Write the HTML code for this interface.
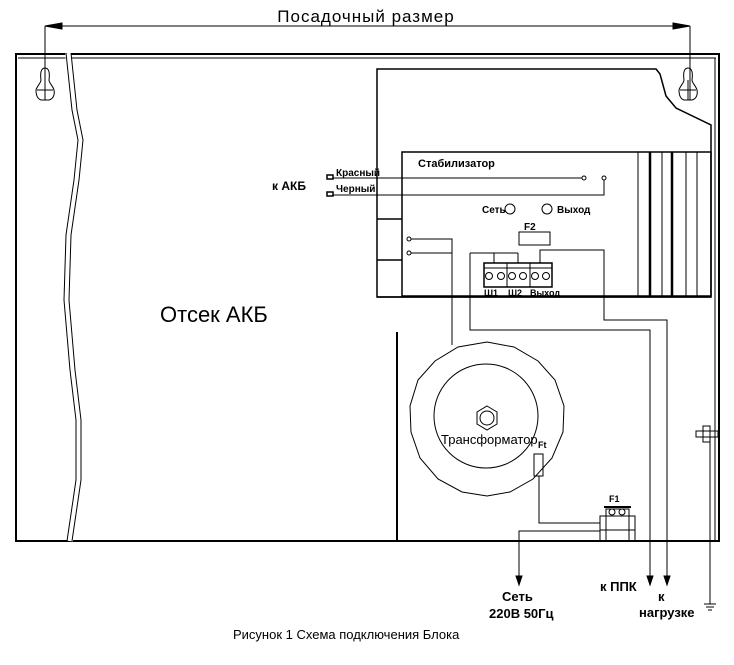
<!DOCTYPE html>
<html><head><meta charset="utf-8"><style>
html,body{margin:0;padding:0;background:#fff;width:734px;height:665px;overflow:hidden}
svg{display:block}
text{font-family:"Liberation Sans","DejaVu Sans",sans-serif;fill:#000}
.b{font-weight:bold}
</style></head><body>
<svg width="734" height="665" viewBox="0 0 734 665" xmlns="http://www.w3.org/2000/svg">
<g fill="none" stroke="#000" stroke-width="1">
<line x1="45" y1="26" x2="690" y2="26"/>
<line x1="45" y1="26" x2="45" y2="100"/>
<line x1="690" y1="26" x2="690" y2="100"/>
<polygon points="45,26 62,23 62,29" fill="#000"/>
<polygon points="690,26 673,23 673,29" fill="#000"/>
<rect x="16" y="54" width="703" height="487" stroke-width="2"/>
<line x1="18" y1="58" x2="716" y2="58"/>
<line x1="715" y1="58" x2="715" y2="540"/>
<path d="M68,53 L74,110 L80,140 L76,180 L68,235 L66,300 L72,370 L78,420 L78,480 L70,541" stroke="#fff" stroke-width="6"/>
<path d="M66,53 L72,110 L78,140 L74,180 L66,235 L64,300 L70,370 L76,420 L76,480 L67,541"/>
<path d="M71,53 L77,110 L83,140 L79,180 L71,235 L69,300 L75,370 L81,420 L81,480 L72,541"/>
<path d="M45,68 C41,68 40,73 41,80 C41,83 37,86 36,90 C36,96 38,99 41,100 L49,100 C53,99 55,95 54,90 C53,86 49,83 49,80 C50,73 49,68 45,68Z"/>
<line x1="37" y1="90" x2="53" y2="90"/><line x1="45" y1="80" x2="45" y2="100"/>
<path d="M688,68 C684,68 683,73 684,80 C684,83 680,86 679,90 C679,96 681,99 684,100 L692,100 C696,99 698,95 697,90 C696,86 692,83 692,80 C693,73 692,68 688,68Z"/>
<line x1="680" y1="90" x2="696" y2="90"/><line x1="688" y1="80" x2="688" y2="100"/>
<path d="M377,297 L377,69 L656,69 L660,74 L666,96 L676,108 L711,125 L711,297 Z" stroke-width="1.5"/>
<line x1="377" y1="297" x2="711" y2="297" stroke-width="1.5"/>
<rect x="402" y="152" width="309" height="144" stroke-width="1.5"/>
<line x1="638" y1="152" x2="638" y2="296"/>
<line x1="650" y1="152" x2="650" y2="296" stroke-width="2.5"/>
<line x1="662" y1="152" x2="662" y2="296"/>
<line x1="672" y1="152" x2="672" y2="296" stroke-width="2.5"/>
<line x1="686" y1="152" x2="686" y2="296"/>
<line x1="697" y1="152" x2="697" y2="296"/>
<line x1="377" y1="219" x2="402" y2="219" stroke-width="1.5"/>
<line x1="377" y1="260" x2="402" y2="260" stroke-width="1.5"/>
<rect x="327" y="175" width="6" height="4" stroke-width="1.5"/>
<rect x="327" y="192" width="6" height="4" stroke-width="1.5"/>
<line x1="333" y1="178" x2="582" y2="178"/>
<circle cx="584" cy="178" r="2"/>
<circle cx="604" cy="178" r="2"/>
<path d="M604,180 L604,195 L333,195"/>
<circle cx="510" cy="209" r="5"/>
<circle cx="547" cy="209" r="5"/>
<rect x="519" y="232" width="31" height="13"/>
<circle cx="409" cy="239" r="2"/>
<circle cx="409" cy="253" r="2"/>
<path d="M411,239 L452,239 L452,345"/>
<path d="M411,253 L452,253"/>
<path d="M470,253 L470,330 L650,330 L650,585"/>
<path d="M470,253 L518,253"/>
<line x1="494" y1="253" x2="494" y2="263"/>
<line x1="518" y1="253" x2="518" y2="263"/>
<path d="M540,263 L540,250 L604,250 L604,320 L667,320 L667,585"/>
<rect x="484" y="263" width="68" height="24" stroke-width="1.5"/>
<line x1="484" y1="268" x2="552" y2="268"/>
<line x1="507" y1="263" x2="507" y2="287"/>
<line x1="530" y1="263" x2="530" y2="287"/>
<circle cx="489" cy="276" r="3.5"/><circle cx="501" cy="276" r="3.5"/>
<circle cx="512" cy="276" r="3.5"/><circle cx="523" cy="276" r="3.5"/>
<circle cx="535" cy="276" r="3.5"/><circle cx="546" cy="276" r="3.5"/>
<polygon points="650,585 647,576 653,576" fill="#000"/>
<polygon points="667,585 664,576 670,576" fill="#000"/>
<line x1="397" y1="332" x2="397" y2="540" stroke-width="2"/>
<polygon points="487,342 514,347 538,361 555,380 564,406 563,432 552,458 533,479 510,492 487,496 462,492 438,479 420,458 411,432 410,406 418,380 435,361 458,347"/>
<circle cx="486" cy="416" r="52"/>
<polygon points="487,406 497,412 497,424 487,430 477,424 477,412"/>
<circle cx="487" cy="418" r="7"/>
<rect x="534" y="454" width="9" height="22"/>
<path d="M539,476 L539,523 L600,523"/>
<path d="M600,531 L519,531 L519,585"/>
<polygon points="519,585 516,576 522,576" fill="#000"/>
<rect x="600" y="516" width="35" height="25"/>
<line x1="606" y1="516" x2="606" y2="541"/>
<line x1="629" y1="516" x2="629" y2="541"/>
<line x1="600" y1="530" x2="635" y2="530"/>
<rect x="606" y="509" width="23" height="7"/>
<circle cx="612" cy="512" r="3"/><circle cx="622" cy="512" r="3"/>
<line x1="604" y1="507" x2="631" y2="507" stroke-width="2"/>
<line x1="710" y1="430" x2="710" y2="604"/>
<rect x="696" y="431" width="22" height="6"/>
<rect x="703" y="426" width="7" height="16"/>
<line x1="704" y1="604" x2="716" y2="604"/>
<line x1="706" y1="607" x2="714" y2="607"/>
<line x1="708" y1="610" x2="712" y2="610"/>
</g>
<text x="366" y="22" text-anchor="middle" font-size="17" style="letter-spacing:1px">Посадочный размер</text>
<text x="160" y="322" font-size="22">Отсек АКБ</text>
<text x="418" y="167" class="b" font-size="11">Стабилизатор</text>
<text x="336" y="176" class="b" font-size="10">Красный</text>
<text x="336" y="192" class="b" font-size="10">Черный</text>
<text x="272" y="190" class="b" font-size="12">к АКБ</text>
<text x="482" y="213" class="b" font-size="10">Сеть</text>
<text x="557" y="213" class="b" font-size="10">Выход</text>
<text x="524" y="230" class="b" font-size="10">F2</text>
<text x="484" y="296" class="b" font-size="9">Ш1</text>
<text x="508" y="296" class="b" font-size="9">Ш2</text>
<text x="530" y="296" class="b" font-size="9">Выход</text>
<text x="441" y="444" font-size="13">Трансформатор</text>
<text x="538" y="448" class="b" font-size="9">Ft</text>
<text x="609" y="502" class="b" font-size="9">F1</text>
<text x="502" y="601" class="b" font-size="13">Сеть</text>
<text x="489" y="618" class="b" font-size="13">220В 50Гц</text>
<text x="600" y="591" class="b" font-size="13">к ППК</text>
<text x="658" y="601" class="b" font-size="13">к</text>
<text x="639" y="617" class="b" font-size="13">нагрузке</text>
<text x="233" y="639" font-size="13">Рисунок 1 Схема подключения Блока</text>
</svg>
</body></html>
